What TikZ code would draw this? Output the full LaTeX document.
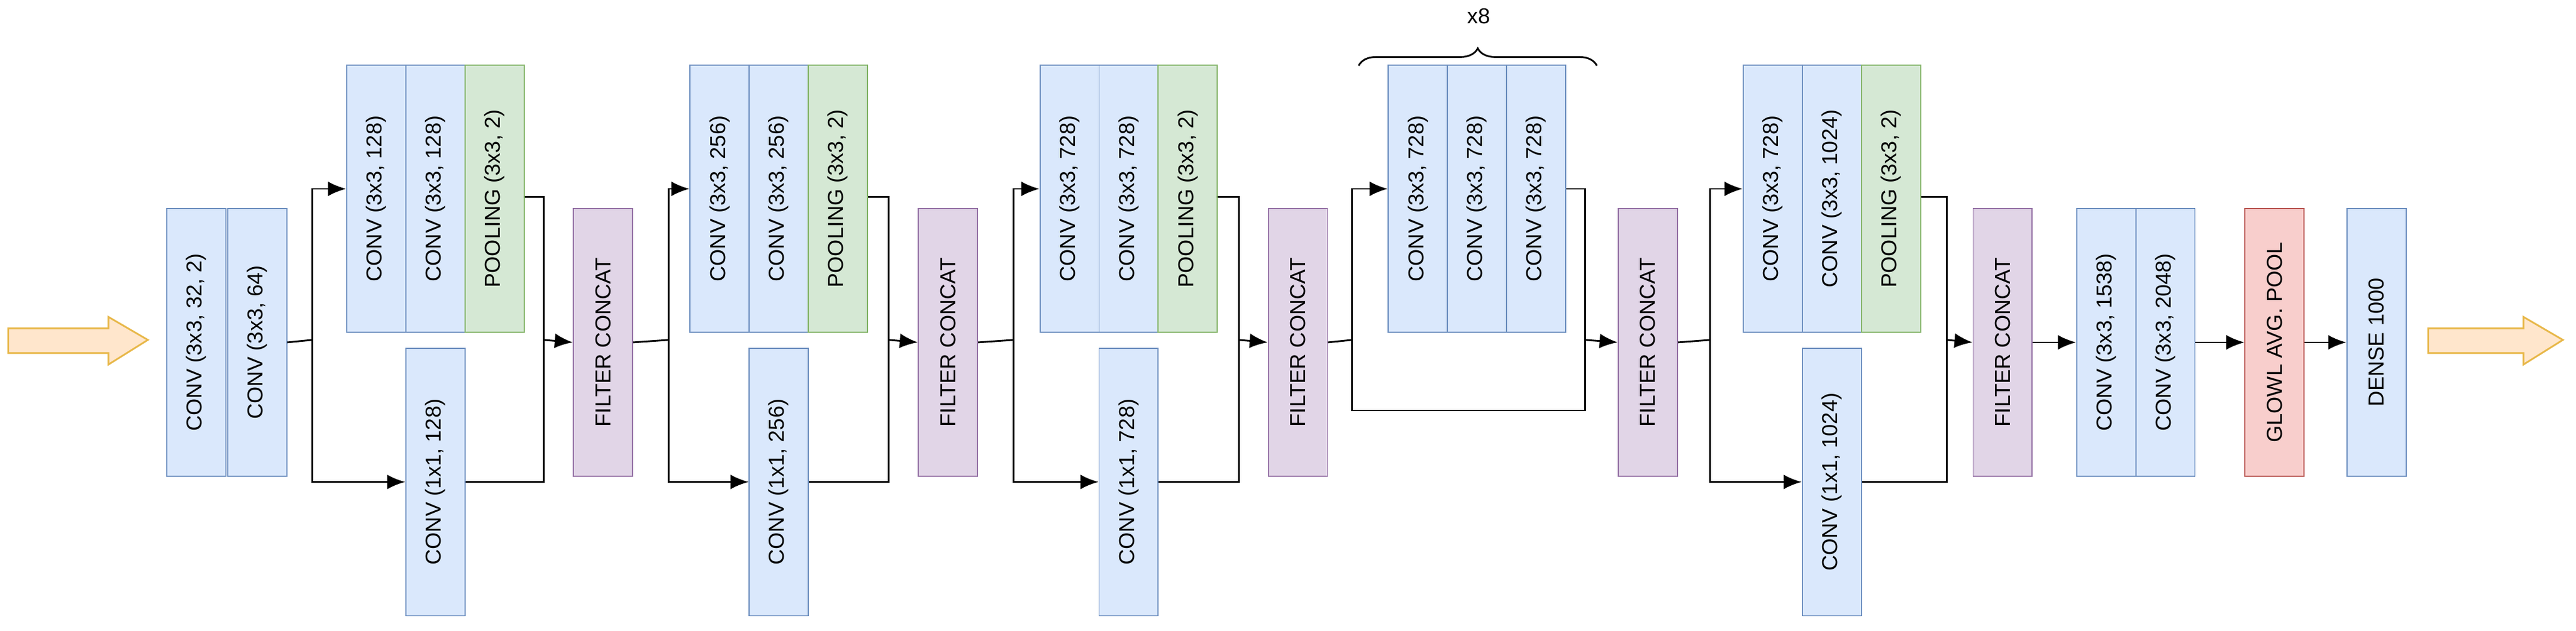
\documentclass[tikz,border=0pt]{standalone}
\usepackage{fontspec}
\setmainfont{Liberation Sans}
\usetikzlibrary{arrows.meta,decorations.pathreplacing}
\definecolor{convfill}{HTML}{DAE8FC}
\definecolor{convdraw}{HTML}{6C8EBF}
\definecolor{poolfill}{HTML}{D5E8D4}
\definecolor{pooldraw}{HTML}{82B366}
\definecolor{catfill}{HTML}{E1D5E7}
\definecolor{catdraw}{HTML}{9673A6}
\definecolor{gapfill}{HTML}{F8CECC}
\definecolor{gapdraw}{HTML}{B85450}
\definecolor{iofill}{HTML}{FFE6CC}
\definecolor{iodraw}{HTML}{E8B84A}
\tikzset{
  layer/.style={draw, rotate=90, inner sep=1pt, minimum width=3.26cm,
    minimum height=0.72cm, font=\fontsize{7.5}{9}\selectfont},
  conv/.style={layer, fill=convfill, draw=convdraw},
  pool/.style={layer, fill=poolfill, draw=pooldraw},
  concat/.style={layer, fill=catfill, draw=catdraw},
  gap/.style={layer, fill=gapfill, draw=gapdraw},
  link/.style={line width=0.6pt},
  arr/.style={link, -{Latex[length=2.2mm,width=1.8mm]}},
  bigarrow/.style={fill=iofill, draw=iodraw, line width=0.6pt}
}
\begin{document}
\begin{tikzpicture}[x=0.02cm, y=-0.02cm]
\useasboundingbox (0,0) rectangle (1568,384);
% input and output
\draw [bigarrow] (5,200) -- (66,200) -- (66,193) -- (90,207) -- (66,222) -- (66,215) -- (5,215) -- cycle;
\draw [bigarrow] (1478,200) -- (1536,200) -- (1536,193) -- (1560,207) -- (1536,222) -- (1536,215) -- (1478,215) -- cycle;
% stem
\node [conv] (s1) at (119.5,208.5) {CONV (3x3, 32, 2)};
\node [conv] (s2) at (156.5,208.5) {CONV (3x3, 64)};
\coordinate (sp1) at (190,207);
\draw [link] (s2.south) -- (sp1);
% entry/exit blocks
\foreach \n/\sp/\t/\j/\f/\ca/\cb/\cc in {
  1/190/211/331/349/{3x3, 128}/{3x3, 128}/{1x1, 128},
  2/407/420/541/559/{3x3, 256}/{3x3, 256}/{1x1, 256},
  3/617/633/754/772/{3x3, 728}/{3x3, 728}/{1x1, 728},
  5/1041/1061/1185/1201/{3x3, 728}/{3x3, 1024}/{1x1, 1024}}{
  \node [conv] (b\n a) at (\t+18,121) {CONV (\ca)};
  \node [conv] (b\n b) at (\t+54,121) {CONV (\cb)};
  \node [pool] (b\n c) at (\t+90,121) {POOLING (3x3, 2)};
  \node [conv] (b\n d) at (\t+54,293.5) {CONV (\cc)};
  \node [concat] (fc\n) at (\f+18,208.5) {FILTER CONCAT};
  \coordinate (sp\n) at (\sp,207);
  \coordinate (j\n) at (\j,207);
  \draw [arr] (sp\n) |- ([yshift=0.12cm]b\n a.north);
  \draw [arr] (sp\n) |- (b\n d.north);
  \draw [link] ([yshift=0.02cm]b\n c.south) -| (j\n) |- (b\n d.south);
  \draw [arr] (j\n) -- (fc\n.north);
}
\draw [link] (fc1.south) -- (sp2);
\draw [link] (fc2.south) -- (sp3);
% middle flow, repeated
\node [conv] (m1) at (863,121) {CONV (3x3, 728)};
\node [conv] (m2) at (899,121) {CONV (3x3, 728)};
\node [conv] (m3) at (935,121) {CONV (3x3, 728)};
\node [concat] (fc4) at (1003,208.5) {FILTER CONCAT};
\coordinate (sp4) at (823,207);
\coordinate (j4) at (965,207);
\draw [link] (fc3.south) -- (sp4);
\draw [arr] (sp4) |- ([yshift=0.12cm]m1.north);
\draw [link] ([yshift=0.12cm]m3.south) -| (j4) -- (965,250) -| (sp4);
\draw [arr] (j4) -- (fc4.north);
\draw [decorate, decoration={brace, amplitude=6pt}, line width=0.6pt] (827,40) -- (972,40);
\node [font=\fontsize{7.5}{9}\selectfont] (rep) at (900,10) {x8};
\draw [link] (fc4.south) -- (sp5);
% exit
\node [conv] (e1) at (1282,208.5) {CONV (3x3, 1538)};
\node [conv] (e2) at (1318,208.5) {CONV (3x3, 2048)};
\node [gap] (pool) at (1384.5,208.5) {GLOWL AVG. POOL};
\node [conv] (dense) at (1446.5,208.5) {DENSE 1000};
\draw [arr] (fc5.south) -- (e1.north);
\draw [arr] (e2.south) -- (pool.north);
\draw [arr] (pool.south) -- (dense.north);
\end{tikzpicture}
\end{document}
